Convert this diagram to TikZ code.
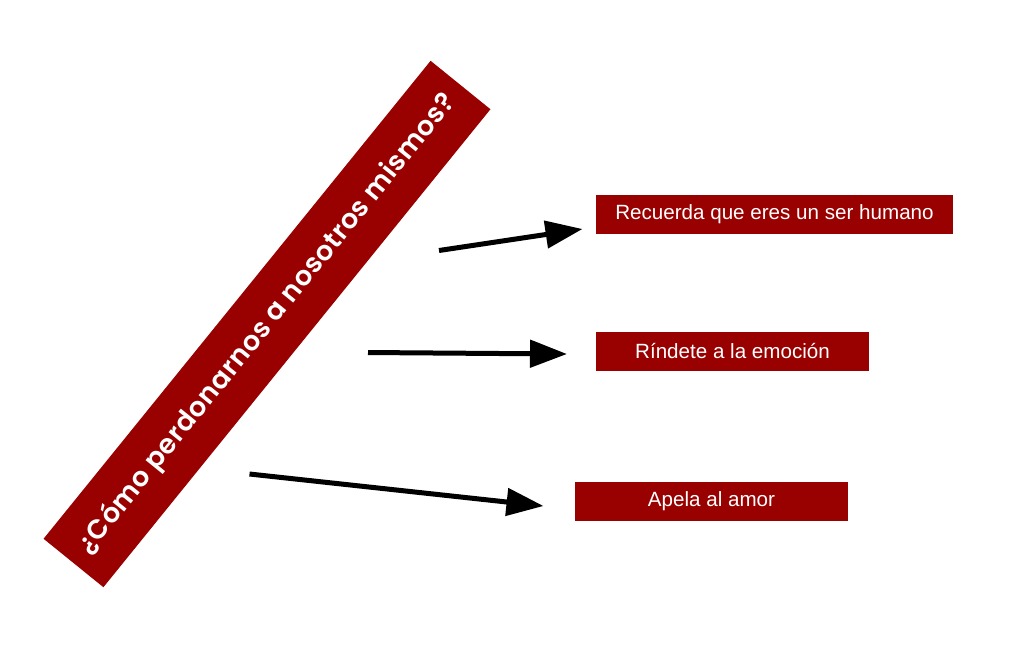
\documentclass[tikz,border=0pt]{standalone}
\usepackage{fontspec}
\setmainfont{Liberation Sans}
\newfontfamily\titlefont{Poppins}[BoldFont = {Poppins SemiBold}, LetterSpace = 2]
\usetikzlibrary{arrows.meta}
\definecolor{darkred}{HTML}{990000}

\begin{document}
\begin{tikzpicture}[x = 1pt, y = -1pt,
    banner/.style = {fill = darkred, text = white, minimum width = 615pt, minimum height = 77pt, inner sep = 0pt, rotate = 51, font = \titlefont\bfseries\fontsize{27}{30}\selectfont},
    item/.style = {fill = darkred, text = white, minimum height = 39pt, inner sep = 0pt, font = \fontsize{20.6}{24}\selectfont},
    pointer/.style = {line width = 5pt, -{Triangle[length = 37pt, width = 27pt]}}]
  \fill[white] (0,0) rectangle (1024,649);
  \useasboundingbox (0,0) rectangle (1024,649);

  \node[banner] (q) at (267,324) {¿Cómo perdonarnos a nosotros mismos?};

  \node[item, minimum width = 357pt] (r1) at (774.5,214.5) {Recuerda que eres un ser humano};
  \node[item, minimum width = 273pt] (r2) at (732.5,351) {Ríndete a la emoción};
  \node[item, minimum width = 273pt] (r3) at (711.5,501.5) {Apela al amor};

  \coordinate (s1) at (439,250.5);
  \coordinate (t1) at (582.5,229);
  \coordinate (s2) at (368,352.5);
  \coordinate (t2) at (567,354);
  \coordinate (s3) at (249.5,474);
  \coordinate (t3) at (543.5,506);

  \draw[pointer] (s1) -- (t1);
  \draw[pointer] (s2) -- (t2);
  \draw[pointer] (s3) -- (t3);
\end{tikzpicture}
\end{document}
